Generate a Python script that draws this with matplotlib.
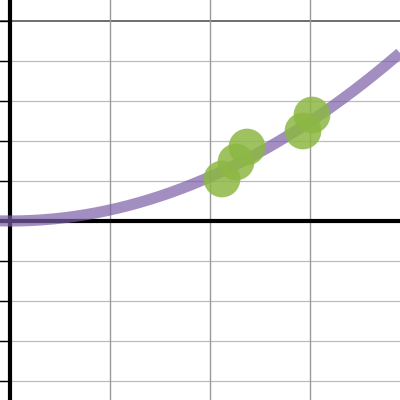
import numpy as np
import matplotlib
matplotlib.use("Agg")
import matplotlib.pyplot as plt

pts_x = [2.12, 2.26, 2.37, 2.93, 3.02]
pts_y = [1.05, 1.475, 1.85, 2.25, 2.65]
curve_coef = [0.276, 0.0, 0.0]  # quadratic fit coefficients

fig = plt.figure(figsize=(4, 4), dpi=100)
ax = fig.add_axes([0, 0, 1, 1])
ax.set_xlim(-0.1, 3.9)
ax.set_ylim(-4.475, 5.525)
for s in ax.spines.values():
    s.set_visible(False)
ax.set_xticks([]); ax.set_yticks([])

for y in range(-4, 6):
    if y == 0:
        continue
    ax.axhline(y, color="#555555" if y == 5 else "#bbbbbb", lw=1.2 if y == 5 else 0.9, zorder=0)
for x in [1, 2, 3]:
    ax.axvline(x, color="#999999", lw=1.0, zorder=0)
ax.axhline(0, color="black", lw=3, zorder=1)
ax.axvline(0, color="black", lw=3, zorder=1)
# left tick marks
for y in range(-4, 6):
    ax.plot([-0.1, 0], [y, y], color="black", lw=1, zorder=1)

xs = np.linspace(-0.1, 3.9, 300)
ax.plot(xs, np.polyval(curve_coef, xs), color="#7b5ea7", alpha=0.7, lw=8, solid_capstyle="butt", zorder=2)
ax.scatter(pts_x, pts_y, s=700, color="#8cb843", alpha=0.85, edgecolors="none", zorder=3)

fig.savefig("out.png", dpi=100)
